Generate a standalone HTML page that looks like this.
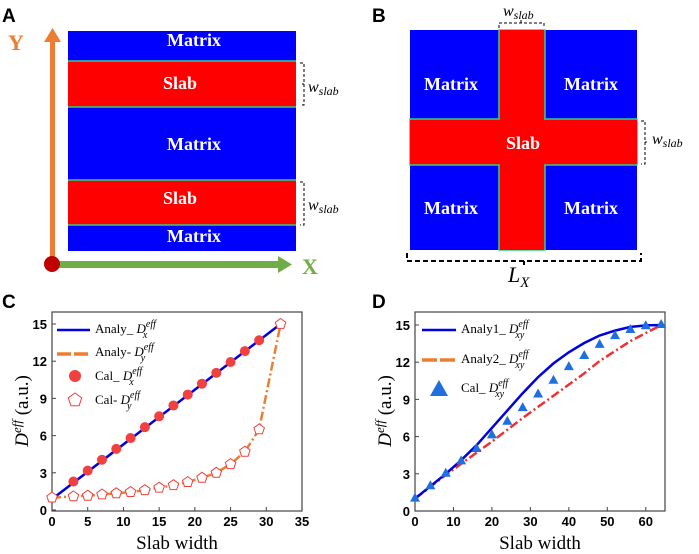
<!DOCTYPE html><html><head><meta charset="utf-8"><style>
body{margin:0;background:#fff;width:699px;height:554px;overflow:hidden}
svg{display:block;font-family:"Liberation Serif",serif}
.lb{font-family:"Liberation Sans",sans-serif;font-weight:bold}
.tk{font-family:"Liberation Sans",sans-serif;font-weight:bold;font-size:13px}
.w{fill:#fff;font-weight:bold;font-size:18px;text-anchor:middle}
</style></head><body>
<svg id="s" width="699" height="554" xmlns="http://www.w3.org/2000/svg">
<text x="2" y="22" class="lb" font-size="19">A</text>
<text x="372" y="22" class="lb" font-size="19">B</text>
<text x="2" y="308" class="lb" font-size="19">C</text>
<text x="372" y="308" class="lb" font-size="19">D</text>
<!-- Panel A -->
<rect x="68" y="31" width="228" height="220" fill="#0000ff"/>
<rect x="68" y="61" width="228" height="46" fill="#ff0000"/>
<rect x="68" y="180" width="228" height="45" fill="#ff0000"/>
<g stroke-width="1.5"><line x1="68" x2="296" y1="61" y2="61" stroke="#30d080"/><line x1="68" x2="296" y1="107" y2="107" stroke="#30d080"/><line x1="68" x2="296" y1="180" y2="180" stroke="#30d080"/><line x1="68" x2="296" y1="225" y2="225" stroke="#30d080"/></g>
<text x="194" y="46" class="w">Matrix</text><text x="180" y="89" class="w">Slab</text><text x="194" y="150" class="w">Matrix</text><text x="180" y="204" class="w">Slab</text><text x="194" y="242" class="w">Matrix</text>
<path d="M300 63h4v42h-4M304 84h-2M300 182h4v43h-4" fill="none" stroke="#000" stroke-dasharray="3,2"/>
<text x="308" y="92" font-style="italic" font-size="16">w<tspan font-size="12" dy="3">slab</tspan></text>
<text x="308" y="210" font-style="italic" font-size="16">w<tspan font-size="12" dy="3">slab</tspan></text>
<rect x="50" y="40" width="5" height="222" fill="#ed7d31"/><path d="M44 42L52.5 28L61 42Z" fill="#ed7d31"/>
<rect x="54" y="261" width="226" height="7" fill="#70ad47"/><path d="M278 256L292 264.5L278 273Z" fill="#70ad47"/>
<circle cx="52" cy="264" r="8" fill="#c00000"/>
<text x="8" y="50" fill="#ed7d31" font-weight="bold" font-size="22">Y</text>
<text x="302" y="274" fill="#70ad47" font-weight="bold" font-size="22">X</text>
<!-- Panel B -->
<rect x="410" y="30" width="227" height="220" fill="#0000ff"/>
<rect x="499" y="30" width="46" height="220" fill="#ff0000" stroke="#30d080" stroke-width="1.5"/>
<rect x="410" y="119" width="227" height="46" fill="#ff0000" stroke="#30d080" stroke-width="1.5"/>
<rect x="500" y="118" width="44" height="48" fill="#ff0000"/>
<rect x="411" y="120" width="225" height="44" fill="#ff0000"/>
<rect x="500" y="30" width="44" height="2" fill="#ff0000"/><rect x="500" y="248" width="44" height="2" fill="#ff0000"/>
<rect x="410" y="120" width="2" height="44" fill="#ff0000"/><rect x="635" y="120" width="2" height="44" fill="#ff0000"/>
<text x="451" y="90" class="w">Matrix</text><text x="591" y="90" class="w">Matrix</text><text x="451" y="214" class="w">Matrix</text><text x="591" y="214" class="w">Matrix</text><text x="523" y="149" class="w">Slab</text>
<path d="M499 28v-5h45v5M521 23v-3" fill="none" stroke="#000" stroke-dasharray="3,2"/>
<text x="503" y="16" font-style="italic" font-size="16">w<tspan font-size="12" dy="3">slab</tspan></text>
<path d="M641 121h4v43h-4M645 142h2" fill="none" stroke="#000" stroke-dasharray="3,2"/>
<text x="652" y="144" font-style="italic" font-size="16">w<tspan font-size="12" dy="3">slab</tspan></text>
<path d="M407 253v8h234v-8M524 261v4" fill="none" stroke="#000" stroke-width="2" stroke-dasharray="5,3"/>
<text x="508" y="282" font-style="italic" font-size="22">L<tspan font-size="15" dy="5">X</tspan></text>
<g id="plots"></g>
</svg>
<script>
const NS="http://www.w3.org/2000/svg",g=document.getElementById('plots');
function el(t,a,txt){const e=document.createElementNS(NS,t);for(const k in a)e.setAttribute(k,a[k]);if(txt!==undefined)e.innerHTML=String(txt);g.appendChild(e);return e;}
function axes(x0,xmax,xticks,fx,fy){
 el('rect',{x:x0,y:312,width:250,height:199,fill:'none',stroke:'#444','stroke-width':1.2});
 xticks.forEach(v=>{const px=fx(v);el('line',{x1:px,x2:px,y1:511,y2:507,stroke:'#444'});el('text',{x:px,y:526,'text-anchor':'middle',class:'tk'},v);});
 [0,3,6,9,12,15].forEach(v=>{const py=fy(v);el('line',{x1:x0,x2:x0+4,y1:py,y2:py,stroke:'#444'});el('text',{x:x0-5,y:py+5,'text-anchor':'end',class:'tk'},v);});
 el('text',{x:x0+125,y:549,'text-anchor':'middle','font-size':19},'Slab width');
 el('text',{transform:`translate(${x0-24},411) rotate(-90)`,'text-anchor':'middle','font-size':19},'<tspan font-style="italic">D</tspan><tspan font-style="italic" font-size="13" dy="-7">eff</tspan><tspan dy="7"> (a.u.)</tspan>');
}
function pts(a,fx,fy){return a.map(p=>fx(p[0]).toFixed(1)+','+fy(p[1]).toFixed(1)).join(' ');}
// C
let fx=x=>52+x*250/35,fy=y=>510-y*12.4;
axes(52,35,[0,5,10,15,20,25,30,35],fx,fy);
let py=[[0,1],[3,1.1],[5,1.15],[7,1.25],[9,1.35],[11,1.45],[13,1.6],[15,1.8],[17,2],[19,2.25],[21,2.6],[23,3],[25,3.7],[27,4.7],[29,6.5],[32,15]];
el('polyline',{points:pts(py,fx,fy),fill:'none',stroke:'#ed7d31','stroke-width':2.5,'stroke-dasharray':'9,3,2,3'});
el('line',{x1:fx(0.5),y1:fy(1.1),x2:fx(32),y2:fy(15),stroke:'#0000e0','stroke-width':2.5});
for(let x=3;x<=29;x+=2){el('circle',{cx:fx(x),cy:fy(2.3+(x-3)*0.438),r:5,fill:'#f04040'});}
function pent(cx,cy,r){let s='';for(let i=0;i<5;i++){const a=-Math.PI/2+i*2*Math.PI/5;s+=(cx+r*Math.cos(a)).toFixed(1)+','+(cy+r*Math.sin(a)).toFixed(1)+' ';}return s;}
py.forEach(p=>el('polygon',{points:pent(fx(p[0]),fy(p[1]),5.5),fill:'#fff',stroke:'#f04040','stroke-width':1}));
el('line',{x1:57,x2:90,y1:330,y2:330,stroke:'#0000e0','stroke-width':2.5});
el('line',{x1:57,x2:90,y1:354,y2:354,stroke:'#ed7d31','stroke-width':3.5,'stroke-dasharray':'14,3'});
el('circle',{cx:75,cy:376,r:6,fill:'#f04040'});
el('polygon',{points:pent(75,400,7),fill:'#fff',stroke:'#f04040'});
[['Analy_ ','x',329],['Analy- ','y',352],['Cal_ ','x',376],['Cal- ','y',400]].forEach(t=>el('text',{x:95,y:t[2]+4,'font-size':13},t[0]+'<tspan font-style="italic">D</tspan><tspan font-style="italic" font-size="10" dy="-6">eff</tspan><tspan font-style="italic" font-size="10" dx="-13" dy="11">'+t[1]+'</tspan>'));
// D
fx=x=>415+x*250/65;fy=y=>511-y*12.4;
axes(415,65,[0,10,20,30,40,50,60],fx,fy);
let bl=[[0,1],[4,2],[8,3],[12,4.1],[16,5.3],[20,6.7],[24,8.1],[28,9.5],[32,10.8],[36,11.9],[40,12.8],[44,13.55],[48,14.15],[52,14.55],[56,14.85],[60,14.97],[64,15]];
let rd=[[0,1],[8,2.9],[16,4.7],[20,5.6],[28,7.5],[36,9.3],[44,11.1],[48,12.1],[56,13.7],[64,15]];
el('polyline',{points:pts(rd,fx,fy),fill:'none',stroke:'#f03030','stroke-width':2.5,'stroke-dasharray':'9,3,2,3'});
el('polyline',{points:pts(bl,fx,fy),fill:'none',stroke:'#0000e0','stroke-width':2.5});
[[0,1],[4,2],[8,3],[12,4],[16,5],[20,6.1],[24,7.2],[28,8.3],[32,9.4],[36,10.5],[40,11.6],[44,12.5],[48,13.4],[52,14.1],[56,14.6],[60,14.9],[64,15]].forEach(p=>{const x=fx(p[0]),y=fy(p[1]);el('polygon',{points:`${x},${y-6} ${x-5},${y+3} ${x+5},${y+3}`,fill:'#1f6fe0'});});
el('line',{x1:422,x2:456,y1:330,y2:330,stroke:'#0000e0','stroke-width':2.5});
el('line',{x1:422,x2:456,y1:360,y2:360,stroke:'#ed7d31','stroke-width':3.5,'stroke-dasharray':'15,3'});
el('polygon',{points:'439,380 430,396 448,396',fill:'#1f6fe0'});
[['Analy1_ ',329],['Analy2_ ',359],['Cal_ ',388]].forEach(t=>el('text',{x:461,y:t[1]+4,'font-size':13},t[0]+'<tspan font-style="italic">D</tspan><tspan font-style="italic" font-size="10" dy="-6">eff</tspan><tspan font-style="italic" font-size="10" dx="-13" dy="11">xy</tspan>'));
</script>
</body></html>
